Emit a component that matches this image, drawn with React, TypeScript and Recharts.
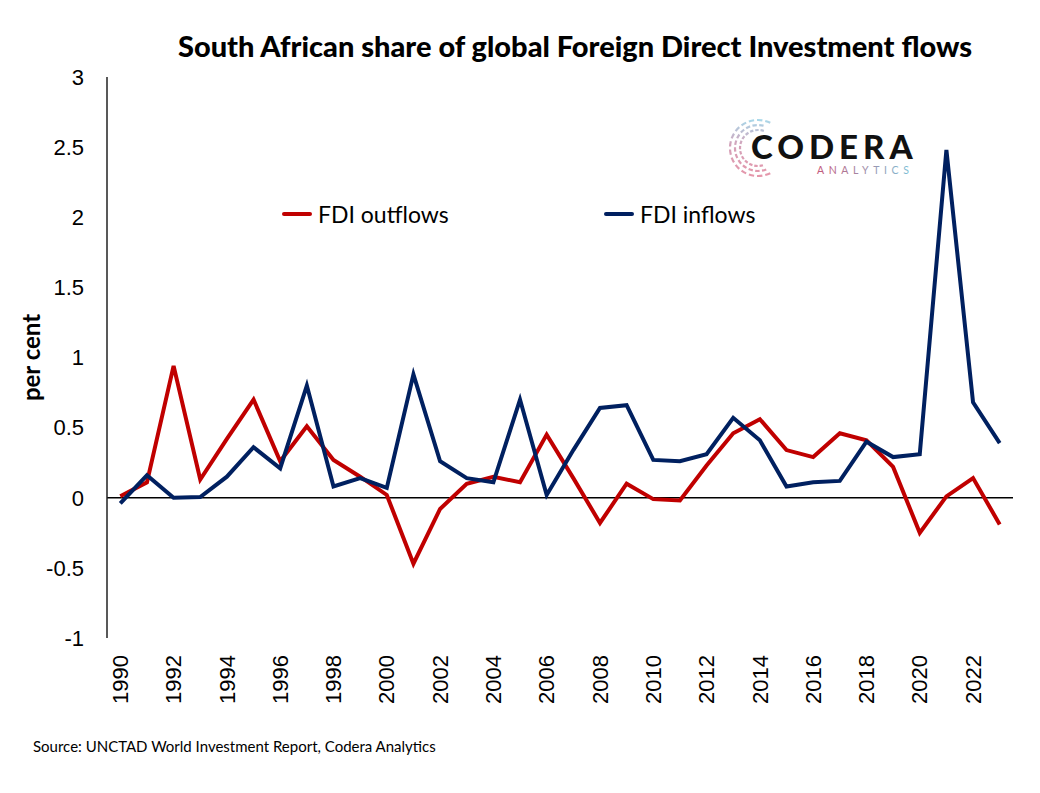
import React from "react";
import { LineChart, Line, XAxis, YAxis, ReferenceLine } from "recharts";

const years = [
  "1990", "1991", "1992", "1993", "1994", "1995", "1996", "1997", "1998", "1999",
  "2000", "2001", "2002", "2003", "2004", "2005", "2006", "2007", "2008", "2009",
  "2010", "2011", "2012", "2013", "2014", "2015", "2016", "2017", "2018", "2019",
  "2020", "2021", "2022", "2023",
];

// share of global FDI, per cent
const outflows = [
  0.01, 0.11, 0.94, 0.13, 0.42, 0.7, 0.26, 0.51, 0.27, 0.15,
  0.02, -0.47, -0.08, 0.1, 0.15, 0.11, 0.45, 0.14, -0.18, 0.1,
  -0.01, -0.02, 0.23, 0.46, 0.56, 0.34, 0.29, 0.46, 0.41, 0.22,
  -0.25, 0.01, 0.14, -0.19,
];

const inflows = [
  -0.04, 0.16, 0.0, 0.005, 0.15, 0.36, 0.21, 0.8, 0.08, 0.14,
  0.07, 0.88, 0.26, 0.14, 0.11, 0.7, 0.02, 0.34, 0.64, 0.66,
  0.27, 0.26, 0.31, 0.57, 0.41, 0.08, 0.11, 0.12, 0.4, 0.29,
  0.31, 2.48, 0.68, 0.39,
];

const yTicks = [-1, -0.5, 0, 0.5, 1, 1.5, 2, 2.5, 3];

const RED = "#C00000";
const NAVY = "#002060";

const data = years.map((year, i) => ({
  year,
  outflows: outflows[i],
  inflows: inflows[i],
}));

const YearTick = (props: any) => {
  const { x, y, payload } = props;
  return (
    <text
      x={x}
      y={y}
      transform={`rotate(-90 ${x} ${y})`}
      textAnchor="end"
      dy="0.35em"
      fontSize={22}
      fontFamily="'Liberation Sans', Arial, sans-serif"
      fill="#000"
    >
      {payload.value}
    </text>
  );
};

const SeriesLegend = () => {
  const items = [
    { label: "FDI outflows", color: RED, width: 322 },
    { label: "FDI inflows", color: NAVY, width: 200 },
  ];
  return (
    <div
      style={{
        position: "absolute",
        left: 282,
        top: 200,
        display: "flex",
        alignItems: "center",
      }}
    >
      {items.map((it) => (
        <div
          key={it.label}
          style={{ display: "flex", alignItems: "center", width: it.width }}
        >
          <span
            style={{
              display: "inline-block",
              width: 30,
              height: 4,
              borderRadius: 2,
              background: it.color,
              marginRight: 6,
            }}
          />
          <span
            style={{
              fontFamily: "Lato, sans-serif",
              fontSize: 23,
              color: "#000",
            }}
          >
            {it.label}
          </span>
        </div>
      ))}
    </div>
  );
};

const Logo = () => {
  const arcs = [] as React.ReactNode[];
  const cx = 36;
  const cy = 38;
  // circuit-style "C" mark: broken concentric arcs wrapping the left side
  const rings = [28, 23, 18];
  rings.forEach((r, ri) => {
    for (let a = 64 + ri * 5; a < 290; a += 17) {
      const a0 = (a * Math.PI) / 180;
      const a1 = ((a + 11) * Math.PI) / 180;
      const x0 = cx + r * Math.cos(a0);
      const y0 = cy + r * Math.sin(a0);
      const x1 = cx + r * Math.cos(a1);
      const y1 = cy + r * Math.sin(a1);
      arcs.push(
        <path
          key={`${ri}-${a}`}
          d={`M${x0},${y0} A${r},${r} 0 0 1 ${x1},${y1}`}
          stroke="url(#logoGrad)"
          strokeWidth={2.2}
          fill="none"
          opacity={0.8}
        />
      );
    }
  });
  return (
    <svg width={210} height={80} style={{ position: "absolute", left: 722, top: 110 }}>
      <defs>
        <linearGradient id="logoGrad" x1="0" y1="8" x2="0" y2="68" gradientUnits="userSpaceOnUse">
          <stop offset="0" stopColor="#8fd3e8" />
          <stop offset="0.45" stopColor="#c98aa8" />
          <stop offset="1" stopColor="#e07c94" />
        </linearGradient>
        <linearGradient id="anaGrad" x1="0" y1="0" x2="1" y2="0">
          <stop offset="0" stopColor="#c2587a" />
          <stop offset="1" stopColor="#7cc3d9" />
        </linearGradient>
      </defs>
      {arcs}
      <text
        x={29}
        y={49}
        fontFamily="Lato, sans-serif"
        fontWeight={900}
        fontSize={33}
        letterSpacing={5}
        fill="#111"
      >
        CODERA
      </text>
      <text
        x={95}
        y={64}
        fontFamily="Lato, sans-serif"
        fontSize={10.5}
        letterSpacing={4.6}
        fill="url(#anaGrad)"
      >
        ANALYTICS
      </text>
    </svg>
  );
};

export default function App() {
  return (
    <div
      style={{
        position: "absolute",
        left: 0,
        top: 0,
        width: 1040,
        height: 793,
        background: "#fff",
        overflow: "hidden",
      }}
    >
      <div
        style={{
          position: "absolute",
          left: 0,
          width: 1150,
          top: 26,
          textAlign: "center",
          fontFamily: "Lato, sans-serif",
          fontWeight: 900,
          fontSize: 29,
          color: "#000",
          lineHeight: "40px",
        }}
      >
        South African share of global Foreign Direct Investment flows
      </div>

      <LineChart
        width={1040}
        height={793}
        data={data}
        margin={{ top: 77, right: 27, bottom: 0, left: 0 }}
      >
        <XAxis
          dataKey="year"
          type="category"
          interval={1}
          height={155}
          axisLine={false}
          tickLine={false}
          tickSize={0}
          tickMargin={17}
          tick={<YearTick />}
          padding={{ left: 13.3, right: 13.3 }}
        />
        <YAxis
          type="number"
          domain={[-1, 3]}
          ticks={yTicks}
          width={107}
          tickLine={false}
          tickSize={0}
          tickMargin={23}
          axisLine={{ stroke: "#222", strokeWidth: 1.5 }}
          tick={{
            fontSize: 22,
            fontFamily: "'Liberation Sans', Arial, sans-serif",
            fill: "#000",
          }}
          label={(p: any) => {
            const vb = p.viewBox || { x: 0, y: 77, height: 561 };
            const cx = vb.x + 30;
            const cy = vb.y + vb.height / 2;
            return (
              <text
                x={cx}
                y={cy}
                transform={`rotate(-90 ${cx} ${cy})`}
                textAnchor="middle"
                dominantBaseline="central"
                fontFamily="Lato, sans-serif"
                fontWeight={700}
                fontSize={24}
                fill="#000"
              >
                per cent
              </text>
            );
          }}
        />
        <ReferenceLine y={0} stroke="#000" strokeWidth={1.5} />
        <Line
          type="linear"
          dataKey="outflows"
          name="FDI outflows"
          stroke={RED}
          strokeWidth={4}
          dot={false}
          isAnimationActive={false}
        />
        <Line
          type="linear"
          dataKey="inflows"
          name="FDI inflows"
          stroke={NAVY}
          strokeWidth={4}
          dot={false}
          isAnimationActive={false}
        />
      </LineChart>

      <SeriesLegend />
      <Logo />

      <div
        style={{
          position: "absolute",
          left: 33,
          top: 737,
          fontFamily: "Lato, sans-serif",
          fontSize: 15,
          color: "#000",
        }}
      >
        Source: UNCTAD World Investment Report, Codera Analytics
      </div>
    </div>
  );
}
